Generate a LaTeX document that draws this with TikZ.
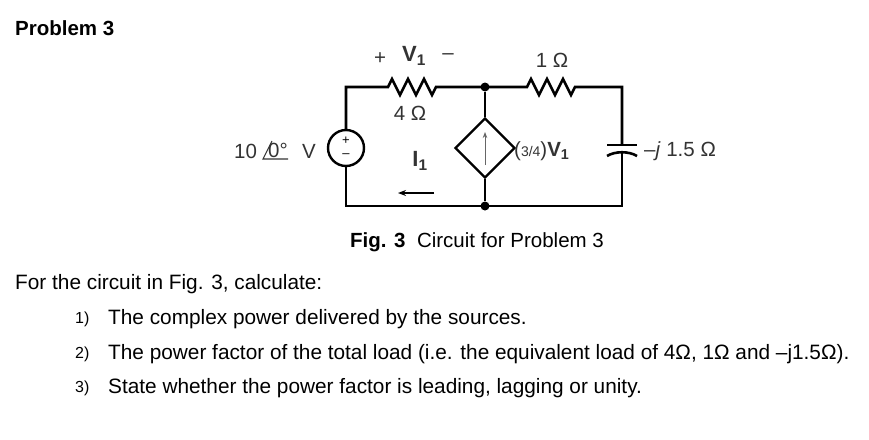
\documentclass[tikz,border=0pt]{standalone}
\usepackage{fontspec}
\setmainfont{Liberation Sans}
\usetikzlibrary{shapes.geometric,arrows.meta}
\begin{document}
\begin{tikzpicture}[x=1pt,y=-1pt,
  wire/.style={line width=2.6pt},
  txt/.style={inner sep=0pt,anchor=base west,font=\fontsize{20.8}{24}\selectfont},
  num/.style={inner sep=0pt,anchor=base west,font=\fontsize{16}{18}\selectfont},
  lab/.style={inner sep=0pt,font=\fontsize{20.5}{22}\selectfont,text=black!80},
  dot/.style={circle,fill=black,inner sep=0pt,minimum size=9pt}]
\useasboundingbox (0,0) rectangle (869,439);
% text
\node[txt,font=\bfseries\fontsize{20.5}{24}\selectfont] (t0) at (15,35) {Problem 3};
\node[txt] (t1) at (15,289) {For the circuit in Fig. 3, calculate:};
\node[num] (n1) at (75,323) {1)};
\node[num] (n2) at (75,358) {2)};
\node[num] (n3) at (75,392) {3)};
\node[txt] (i1) at (108,324) {The complex power delivered by the sources.};
\node[txt] (i2) at (108,359) {The power factor of the total load (i.e. the equivalent load of 4Ω, 1Ω and \textendash j1.5Ω).};
\node[txt] (i3) at (108,393) {State whether the power factor is leading, lagging or unity.};
\node[txt,font=\fontsize{20.5}{22}\selectfont] (cap) at (350,247) {\textbf{Fig. 3}\ \ Circuit for Problem 3};
% circuit coordinates
\coordinate (tl) at (346,87); \coordinate (bl) at (346,206);
\coordinate (tr) at (622,87); \coordinate (br) at (622,206);
\node[dot] (tm) at (485,87) {};
\node[dot] (bm) at (485,206) {};
\node[circle,draw,line width=2.4pt,minimum size=36pt,inner sep=0pt] (src) at (346,148) {};
\node[font=\fontsize{13}{13}\selectfont,inner sep=0pt] (sp) at (346,141) {+};
\node[font=\fontsize{13}{13}\selectfont,inner sep=0pt] (sm) at (346,156) {\textendash};
\node[diamond,draw,line width=2.4pt,minimum width=60pt,minimum height=60pt,inner sep=0pt] (dia) at (485,148) {};
\draw[wire] (src.north) -- (tl) -- (388,87) -- (392,79) -- (400,95) -- (408,79) -- (416,95) -- (424,79) -- (432,95) -- (436,87) -- (tm.center)
  -- (527,87) -- (531,79) -- (539,95) -- (547,79) -- (555,95) -- (563,79) -- (571,95) -- (575,87) -- (tr) -- (622,145);
\draw[wire] (607,145) -- (637,145);
\draw[wire] (607,156) .. controls (615,151) and (629,151) .. (637,156);
\draw[wire] (622,152) -- (br) -- (bl) -- (src.south);
\draw[wire] (tm) -- (dia.north);
\draw[wire] (dia.south) -- (bm);
\draw[line width=0.8pt,-{Stealth[length=6pt]},black!60] (485,165) -- (485,132);
\draw[line width=1.6pt,-{Stealth[length=8pt]}] (434,193) -- (398,193);
% labels
\node[lab] (lp) at (380,59) {+};
\node[lab,font=\bfseries\fontsize{22}{22}\selectfont] (lv) at (414,56) {V$_{\mathbf 1}$};
\node[lab] (lm) at (448,57) {\textendash};
\node[lab] (l4) at (410,113) {4 Ω};
\node[lab] (l1) at (552,60) {1 Ω};
\node[lab,font=\bfseries\fontsize{22}{22}\selectfont] (li) at (420,161) {I$_{\mathbf 1}$};
\node[lab,anchor=west] (ldep) at (514,151) {({\fontsize{14}{14}\selectfont 3/4})\textbf{V}$_{\mathbf 1}$};
\node[lab,anchor=west] (lc) at (644,151) {\textendash\textit{j} 1.5 Ω};
\node[lab,anchor=west] (l10) at (234,151) {10};
\node[lab,anchor=west] (l0) at (268,150) {0°};
\node[lab,anchor=west] (lV) at (302,151) {V};
\draw[line width=1.1pt,black!80] (272,141) -- (263,159) -- (288,159);
\end{tikzpicture}
\end{document}
